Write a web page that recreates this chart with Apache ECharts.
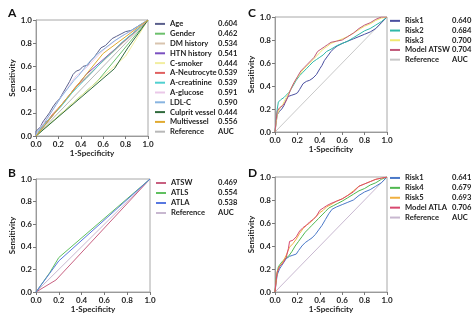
<!DOCTYPE html>
<html><head><meta charset="utf-8">
<script src="https://cdn.jsdelivr.net/npm/echarts@6/dist/echarts.min.js"></script>
<style>html,body{margin:0;padding:0;background:#fff}#c{width:474px;height:323px}</style>
</head><body><div id="c"></div>
<script>
// ---- Data (ROC points as [1-Specificity, Sensitivity]) ----
const tickLabels = ['0.0','0.2','0.4','0.6','0.8','1.0'];
const reference = [[0,0],[1,1]];

// Panel A
const namesA = ['Age','Gender','DM history','HTN history','C-smoker','A-Neutrocyte','A-creatinine','A-glucose','LDL-C','Culprit vessel','Multivessel','Reference'];
const aucA = ['0.604','0.462','0.534','0.541','0.444','0.539','0.539','0.591','0.590','0.444','0.556','AUC'];
const ageA = [[0,0],[0,0.04],[0.02,0.06],[0.04,0.08],[0.06,0.12],[0.09,0.16],[0.12,0.2],[0.15,0.25],[0.18,0.29],[0.21,0.32],[0.24,0.37],[0.27,0.42],[0.3,0.47],[0.33,0.53],[0.36,0.56],[0.39,0.57],[0.42,0.6],[0.46,0.61],[0.49,0.65],[0.52,0.68],[0.55,0.72],[0.58,0.76],[0.62,0.78],[0.65,0.81],[0.68,0.84],[0.72,0.86],[0.76,0.88],[0.8,0.9],[0.85,0.91],[0.9,0.94],[0.95,0.97],[1,1]];
const genderA = [[0,0],[0.55,0.474],[1,1]];
const dmA = [[0,0],[0.4,0.468],[1,1]];
const htnA = [[0,0],[0.45,0.532],[1,1]];
const smokerA = [[0,0],[0.8,0.688],[1,1]];
const neutroA = [[0,0],[0.03,0.05],[0.07,0.1],[0.11,0.14],[0.15,0.19],[0.2,0.24],[0.25,0.29],[0.3,0.35],[0.35,0.42],[0.4,0.46],[0.45,0.5],[0.5,0.55],[0.55,0.6],[0.6,0.65],[0.65,0.7],[0.7,0.74],[0.75,0.79],[0.8,0.83],[0.85,0.87],[0.9,0.91],[0.95,0.96],[1,1]];
const creatA = [[0,0],[0.04,0.06],[0.08,0.1],[0.12,0.15],[0.17,0.2],[0.22,0.25],[0.27,0.31],[0.32,0.37],[0.37,0.42],[0.42,0.47],[0.47,0.52],[0.52,0.57],[0.57,0.62],[0.62,0.67],[0.67,0.71],[0.72,0.76],[0.77,0.81],[0.82,0.85],[0.87,0.89],[0.92,0.93],[0.96,0.97],[1,1]];
const glucoseA = [[0,0],[0.02,0.05],[0.05,0.09],[0.08,0.13],[0.12,0.18],[0.16,0.24],[0.2,0.3],[0.24,0.36],[0.28,0.41],[0.32,0.47],[0.36,0.52],[0.4,0.55],[0.44,0.58],[0.48,0.62],[0.52,0.66],[0.56,0.7],[0.6,0.74],[0.64,0.77],[0.68,0.8],[0.72,0.83],[0.76,0.86],[0.8,0.88],[0.85,0.9],[0.9,0.93],[0.95,0.96],[1,1]];
const ldlA = [[0,0],[0.01,0.04],[0.04,0.07],[0.07,0.1],[0.1,0.15],[0.14,0.21],[0.18,0.27],[0.22,0.33],[0.26,0.38],[0.3,0.43],[0.34,0.48],[0.38,0.52],[0.42,0.57],[0.46,0.62],[0.5,0.66],[0.54,0.7],[0.58,0.73],[0.62,0.76],[0.66,0.79],[0.7,0.82],[0.75,0.85],[0.8,0.88],[0.85,0.91],[0.9,0.94],[0.95,0.97],[1,1]];
const culpritA = [[0,0],[0.7,0.58],[0.82,0.76],[1,1]];
const multiA = [[0,0],[0.6,0.712],[1,1]];
const colorsA = ['#5a5f8c','#6cc06c','#d8c4ae','#7a4fc0','#f2eea0','#e06060','#50d0d0','#eac8e8','#88b4e0','#2f6a3c','#e0aa30','#b8b8b8'];

// Panel B
const namesB = ['ATSW','ATLS','ATLA','Reference'];
const aucB = ['0.469','0.554','0.538','AUC'];
const atswB = [[0,0],[0.175,0.106],[1,1]];
const atlsB = [[0,0],[0.12,0.17],[0.2,0.305],[1,1]];
const atlaB = [[0,0],[0.12,0.165],[0.2,0.275],[1,1]];
const colorsB = ['#c86080','#60c060','#5878e0','#c8b8d0'];

// Panel C
const namesC = ['Risk1','Risk2','Risk3','Model ATSW','Reference'];
const aucC = ['0.640','0.684','0.700','0.704','AUC'];
const risk1C = [[0,0],[0.01,0.08],[0.02,0.15],[0.04,0.18],[0.06,0.2],[0.08,0.23],[0.1,0.28],[0.12,0.31],[0.15,0.32],[0.18,0.33],[0.2,0.34],[0.22,0.37],[0.25,0.42],[0.28,0.44],[0.31,0.45],[0.34,0.47],[0.37,0.5],[0.4,0.55],[0.42,0.58],[0.44,0.62],[0.47,0.66],[0.5,0.7],[0.53,0.73],[0.56,0.75],[0.6,0.77],[0.65,0.79],[0.7,0.81],[0.75,0.83],[0.8,0.85],[0.85,0.87],[0.9,0.9],[0.95,0.95],[1,1]];
const risk2C = [[0,0],[0.01,0.1],[0.02,0.2],[0.03,0.26],[0.05,0.28],[0.08,0.3],[0.1,0.32],[0.13,0.35],[0.16,0.4],[0.19,0.45],[0.22,0.49],[0.25,0.52],[0.28,0.55],[0.31,0.58],[0.34,0.61],[0.37,0.63],[0.4,0.65],[0.43,0.67],[0.46,0.7],[0.5,0.72],[0.55,0.75],[0.6,0.77],[0.65,0.79],[0.7,0.82],[0.75,0.85],[0.8,0.88],[0.85,0.9],[0.9,0.93],[0.95,0.96],[1,1]];
const risk3C = [[0,0],[0.02,0.15],[0.04,0.2],[0.07,0.24],[0.1,0.3],[0.13,0.35],[0.16,0.41],[0.19,0.46],[0.22,0.5],[0.25,0.54],[0.28,0.57],[0.31,0.6],[0.34,0.63],[0.37,0.66],[0.4,0.69],[0.43,0.72],[0.46,0.74],[0.5,0.77],[0.55,0.79],[0.6,0.81],[0.65,0.83],[0.7,0.86],[0.75,0.89],[0.8,0.92],[0.85,0.94],[0.9,0.97],[0.95,0.99],[1,1]];
const atswC = [[0,0],[0.01,0.1],[0.02,0.18],[0.04,0.21],[0.07,0.23],[0.1,0.27],[0.12,0.32],[0.14,0.37],[0.17,0.43],[0.2,0.48],[0.23,0.53],[0.26,0.56],[0.29,0.59],[0.32,0.62],[0.35,0.65],[0.38,0.7],[0.41,0.72],[0.44,0.74],[0.47,0.76],[0.5,0.78],[0.55,0.79],[0.6,0.8],[0.65,0.83],[0.7,0.86],[0.75,0.9],[0.8,0.93],[0.85,0.95],[0.9,0.98],[0.95,1],[1,1]];
const colorsC = ['#4a4fa0','#30b8a8','#f0e870','#c05878','#c8c8c8'];

// Panel D
const namesD = ['Risk1','Risk4','Risk5','Model ATLA','Reference'];
const aucD = ['0.641','0.679','0.693','0.706','AUC'];
const risk1D = [[0,0],[0.01,0.08],[0.02,0.15],[0.04,0.2],[0.06,0.23],[0.08,0.26],[0.1,0.29],[0.13,0.31],[0.16,0.32],[0.19,0.33],[0.21,0.36],[0.24,0.4],[0.27,0.43],[0.3,0.45],[0.33,0.47],[0.36,0.5],[0.39,0.54],[0.42,0.58],[0.45,0.63],[0.48,0.68],[0.51,0.72],[0.55,0.74],[0.6,0.76],[0.65,0.78],[0.7,0.8],[0.75,0.84],[0.8,0.87],[0.85,0.89],[0.9,0.92],[0.95,0.95],[1,1]];
const risk4D = [[0,0],[0.01,0.12],[0.03,0.22],[0.06,0.26],[0.09,0.29],[0.12,0.31],[0.15,0.35],[0.18,0.4],[0.21,0.44],[0.24,0.48],[0.27,0.52],[0.3,0.55],[0.33,0.58],[0.36,0.61],[0.39,0.64],[0.42,0.67],[0.45,0.7],[0.48,0.73],[0.52,0.75],[0.56,0.77],[0.6,0.79],[0.65,0.82],[0.7,0.85],[0.75,0.88],[0.8,0.9],[0.85,0.93],[0.9,0.95],[0.95,0.98],[1,1]];
const risk5D = [[0,0],[0.02,0.18],[0.04,0.22],[0.07,0.26],[0.1,0.32],[0.13,0.39],[0.16,0.42],[0.19,0.46],[0.22,0.51],[0.25,0.55],[0.28,0.58],[0.31,0.6],[0.34,0.63],[0.37,0.66],[0.4,0.69],[0.43,0.71],[0.46,0.74],[0.5,0.76],[0.55,0.79],[0.6,0.81],[0.65,0.84],[0.7,0.88],[0.75,0.92],[0.8,0.94],[0.85,0.96],[0.9,0.98],[0.95,0.99],[1,1]];
const atlaD = [[0,0],[0.01,0.1],[0.02,0.17],[0.04,0.22],[0.07,0.25],[0.1,0.3],[0.12,0.38],[0.13,0.44],[0.16,0.45],[0.19,0.48],[0.22,0.53],[0.25,0.56],[0.28,0.58],[0.31,0.61],[0.34,0.63],[0.37,0.66],[0.4,0.71],[0.43,0.73],[0.46,0.75],[0.5,0.77],[0.55,0.79],[0.6,0.81],[0.65,0.84],[0.7,0.87],[0.75,0.92],[0.8,0.94],[0.85,0.96],[0.9,0.98],[0.95,0.99],[1,1]];
const colorsD = ['#4a78c8','#50b850','#f0b040','#d84870','#c8b8d0'];

// ---- Build chart ----
const FONT = 'Lato';
const LFS = 7.6;
const panels = [
  {key:'A', names:namesA, auc:aucA, colors:colorsA, data:[ageA,genderA,dmA,htnA,smokerA,neutroA,creatA,glucoseA,ldlA,culpritA,multiA,reference],
   grid:{left:36, top:20, width:112, height:116}, legend:{left:155, top:19, w:48, lh:9.8}, letter:{x:8, y:7}},
  {key:'B', names:namesB, auc:aucB, colors:colorsB, data:[atswB,atlsB,atlaB,reference],
   grid:{left:36, top:179, width:114, height:113}, legend:{left:156, top:178, w:47, lh:10}, letter:{x:8, y:167}},
  {key:'C', names:namesC, auc:aucC, colors:colorsC, data:[risk1C,risk2C,risk3C,atswC,reference],
   grid:{left:275, top:17, width:112, height:115}, legend:{left:390, top:16, w:47, lh:9.7}, letter:{x:248, y:7}},
  {key:'D', names:namesD, auc:aucD, colors:colorsD, data:[risk1D,risk4D,risk5D,atlaD,reference],
   grid:{left:275, top:177, width:112, height:115}, legend:{left:390, top:173, w:47, lh:9.9}, letter:{x:248, y:167}}
];

const labelMap = {};
const option = {animation:false, backgroundColor:'#fff', grid:[], xAxis:[], yAxis:[], legend:[], series:[], graphic:[]};
const axisCommon = {
  type:'value', min:0, max:1, interval:0.2,
  axisLine:{show:true, lineStyle:{color:'#9a9a9a', width:1}},
  axisTick:{show:true, length:3, lineStyle:{color:'#777'}},
  splitLine:{show:false},
  axisLabel:{fontFamily:FONT, fontWeight:'bold', fontSize:8, color:'#222', formatter:v=>v.toFixed(1)},
  nameLocation:'middle', nameTextStyle:{fontFamily:FONT, fontWeight:'bold', fontSize:8, color:'#222'}
};
panels.forEach((p, i) => {
  option.grid.push(Object.assign({show:true, borderColor:'#a8a8a8', borderWidth:1, backgroundColor:'#fff'}, p.grid));
  option.xAxis.push(Object.assign({}, axisCommon, {gridIndex:i, name:'1-Specificity', nameGap:13,
    axisLabel:Object.assign({}, axisCommon.axisLabel, {margin:4})}));
  option.yAxis.push(Object.assign({}, axisCommon, {gridIndex:i, name:'Sensitivity', nameGap:19,
    axisLabel:Object.assign({}, axisCommon.axisLabel, {margin:4})}));
  const legendData = [];
  p.names.forEach((n, j) => {
    const id = p.key + '|' + n;
    labelMap[id] = {n:n, v:p.auc[j]};
    legendData.push({name:id, itemStyle:{color:p.colors[j]}});
    option.series.push({type:'line', name:id, xAxisIndex:i, yAxisIndex:i, data:p.data[j], symbol:'none',
      lineStyle:{color:p.colors[j], width:1}, itemStyle:{color:p.colors[j]}, z: n==='Reference'?1:2});
  });
  option.legend.push({left:p.legend.left, top:p.legend.top, orient:'vertical', padding:0, itemGap:0,
    itemWidth:10, itemHeight:2, icon:'rect', selectedMode:false, data:legendData,
    formatter: name => '{n|' + labelMap[name].n + '}{v|' + labelMap[name].v + '}',
    textStyle:{fontFamily:FONT, fontWeight:'bold', fontSize:LFS, color:'#222', lineHeight:p.legend.lh,
      rich:{n:{width:p.legend.w, fontFamily:FONT, fontWeight:'bold', fontSize:LFS, color:'#222', lineHeight:p.legend.lh},
            v:{fontFamily:FONT, fontWeight:'bold', fontSize:LFS, color:'#222', lineHeight:p.legend.lh}}}});
  option.graphic.push({type:'text', left:p.letter.x, top:p.letter.y,
    style:{text:p.key, fontFamily:FONT, fontWeight:'bold', fontSize:12, fill:'#111'}});
});
const chart = echarts.init(document.getElementById('c'), null, {renderer:'canvas'});
chart.setOption(option);
</script></body></html>
